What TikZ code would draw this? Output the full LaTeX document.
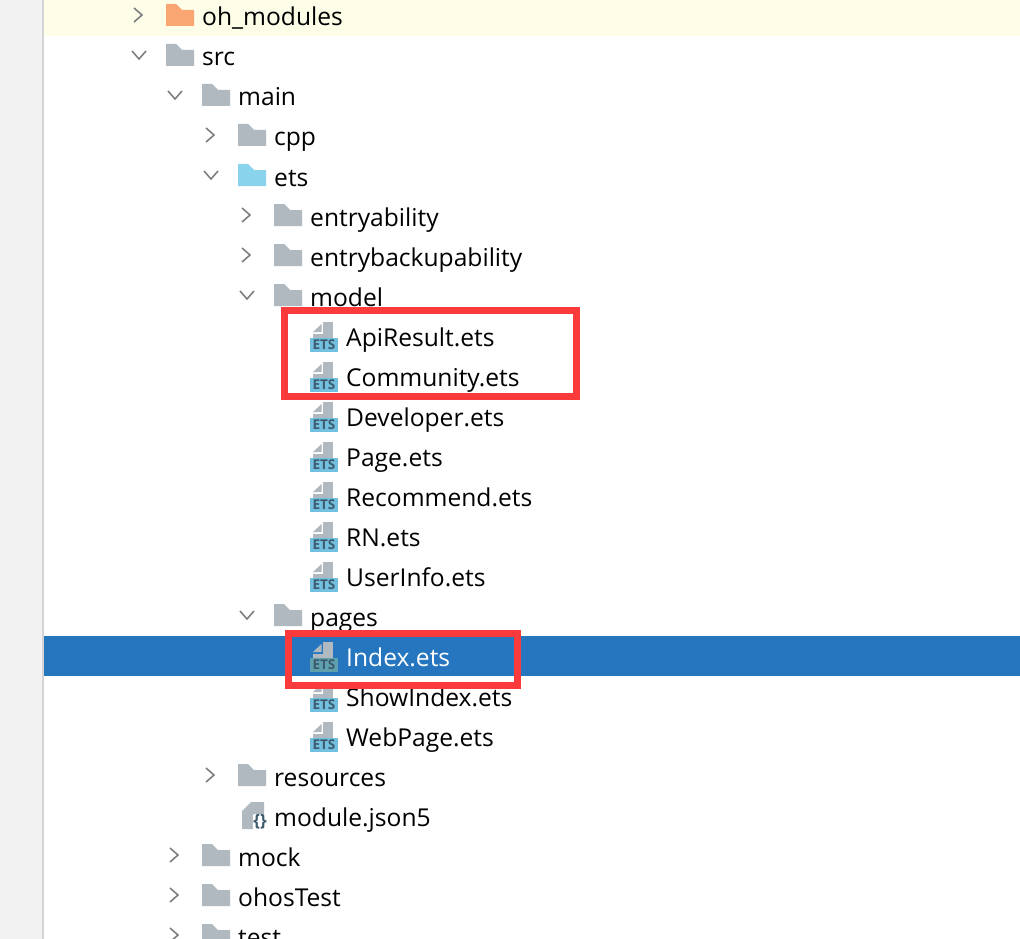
\documentclass[tikz,border=0pt]{standalone}
\usepackage{fontspec}
\usepackage{tikz}
\setmainfont{Open Sans}
\definecolor{foldergrey}{HTML}{AFB9BF}
\definecolor{folderorange}{HTML}{F9A672}
\definecolor{folderblue}{HTML}{8AD3EC}
\definecolor{etsblue}{HTML}{72C0E0}
\definecolor{etsmuted}{HTML}{5FA0AE}
\definecolor{etstext}{HTML}{3D5A6C}
\definecolor{rowblue}{HTML}{2675BF}
\definecolor{rowyellow}{HTML}{FDFDE8}
\definecolor{gutter}{HTML}{F2F2F2}
\definecolor{gutterline}{HTML}{D4D4D4}
\definecolor{chevgrey}{HTML}{7F7F7F}
\definecolor{boxred}{HTML}{FB3B3B}
\newcommand{\TreeFolder}[5]{
  \fill [#4, shift={(#2,#3)}] (0,-11) -- (10,-11) -- (16,-5) -- (28,-5) -- (28,11) -- (0,11) -- cycle;
  \node (#1) [rowlabel] at (#2+36,#3+11) {#5};
}
\newcommand{\TreeFile}[5]{
  \fill [foldergrey, shift={(#2,#3)}] (13,-13) rectangle (23,3);
  \fill [foldergrey, shift={(#2,#3)}] (3,-3) -- (11.5,-11) -- (11.5,-3) -- (3,-3) -- (3,3) -- (13,3) -- (13,-1) -- (3,-1) -- cycle;
  \fill [#4, shift={(#2,#3)}] (0,3) rectangle (28,17);
  \node (#1icon) [etslabel] at (#2+14,#3+10) {ETS};
  \node (#1) [rowlabel, #5] at (#2+36,#3+11) {#1.ets};
}
\newcommand{\ChevRight}[2]{\draw [chevron, shift={(#1,#2)}] (-4,-7) -- (4,0) -- (-4,7);}
\newcommand{\ChevDown}[2]{\draw [chevron, shift={(#1,#2)}] (-7,-4) -- (0,4) -- (7,-4);}

\begin{document}
\begin{tikzpicture}[x=1pt, y=-1pt]

\tikzstyle{rowlabel}=[anchor=base west, inner sep=0pt, font=\fontsize{24.6}{28}\selectfont, text=black]
\tikzstyle{etslabel}=[inner sep=0pt, font=\fontsize{13.5}{14}\selectfont\bfseries, text=etstext]
\tikzstyle{chevron}=[chevgrey, line width=1.6pt]
\tikzstyle{redbox}=[boxred, line width=7pt]

\useasboundingbox (0,0) rectangle (1020,939);
\clip (0,0) rectangle (1020,939);

\fill [white] (0,0) rectangle (1020,939);
\fill [gutter] (0,0) rectangle (42,939);
\fill [gutterline] (42,0) rectangle (44,939);
\fill [rowyellow] (44,0) rectangle (1020,36);

\ChevRight{138}{15}
\TreeFolder{ohmodules}{166}{15}{folderorange}{oh\_modules}
\ChevDown{139}{55}
\TreeFolder{src}{166}{55}{foldergrey}{src}
\ChevDown{175}{95}
\TreeFolder{main}{202}{95}{foldergrey}{main}
\ChevRight{210}{135}
\TreeFolder{cpp}{238}{135}{foldergrey}{cpp}
\ChevDown{211}{175}
\TreeFolder{ets}{238}{175}{folderblue}{ets}
\ChevRight{246}{215}
\TreeFolder{entryability}{274}{215}{foldergrey}{entryability}
\ChevRight{246}{255}
\TreeFolder{entrybackupability}{274}{255}{foldergrey}{entrybackupability}
\ChevDown{247}{295}
\TreeFolder{model}{274}{295}{foldergrey}{model}

\TreeFile{ApiResult}{310}{335}{etsblue}{}
\TreeFile{Community}{310}{375}{etsblue}{}
\TreeFile{Developer}{310}{415}{etsblue}{}
\TreeFile{Page}{310}{455}{etsblue}{}
\TreeFile{Recommend}{310}{495}{etsblue}{}
\TreeFile{RN}{310}{535}{etsblue}{}
\TreeFile{UserInfo}{310}{575}{etsblue}{}

\ChevDown{247}{615}
\TreeFolder{pages}{274}{615}{foldergrey}{pages}

\TreeFile{ShowIndex}{310}{695}{etsblue}{}
\TreeFile{WebPage}{310}{735}{etsblue}{}

\ChevRight{210}{775}
\TreeFolder{resources}{238}{775}{foldergrey}{resources}

\fill [foldergrey] (251,802) -- (264,802) -- (264,829) -- (242,829) -- (242,811) -- cycle;
\node (jsonicon) [inner sep=0.5pt, fill=white, rounded corners=2pt, font=\fontsize{17}{18}\selectfont\bfseries, text=etstext] at (260,822) {\{\}};
\node (modulejson) [rowlabel] at (274,826) {module.json5};

\ChevRight{174}{855}
\TreeFolder{mock}{202}{855}{foldergrey}{mock}
\ChevRight{174}{895}
\TreeFolder{ohosTest}{202}{895}{foldergrey}{ohosTest}
\ChevRight{174}{935}
\TreeFolder{test}{202}{935}{foldergrey}{test}

\fill [rowblue] (44,636) rectangle (1020,676);
\TreeFile{Index}{310}{655}{etsmuted}{text=white}

\draw [redbox] (284.5,310.5) rectangle (576.5,396.5);
\draw [redbox] (288.5,633.5) rectangle (517.5,685.5);

\end{tikzpicture}
\end{document}
